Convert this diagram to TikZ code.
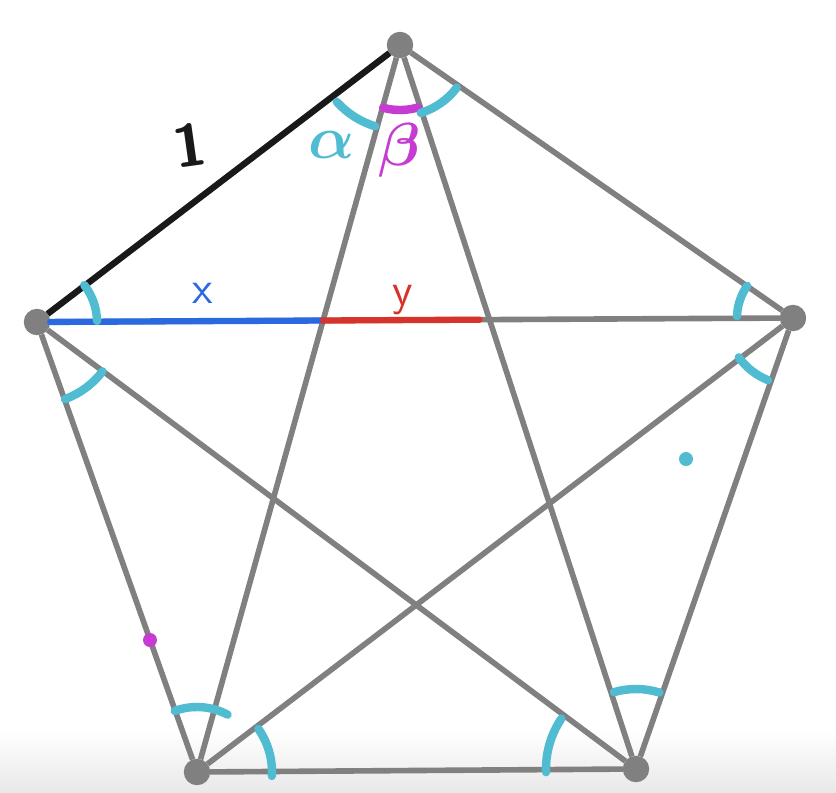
\documentclass[tikz,border=0pt]{standalone}
\usepackage{amsmath}
\usepackage{tikz}
\usetikzlibrary{calc}
\definecolor{edgegray}{RGB}{128,128,128}
\definecolor{angcyan}{RGB}{80,188,210}
\definecolor{angmag}{RGB}{198,60,210}
\definecolor{xblue}{RGB}{42,105,224}
\definecolor{yred}{RGB}{214,52,42}
\begin{document}
\begin{tikzpicture}[vtx/.style={draw=edgegray,circle,fill=edgegray,
		inner sep=0pt,minimum size=0.25cm}, edg/.style={draw=edgegray,line width=1.6pt},
		ang/.style={draw=angcyan,line width=2.4pt,line cap=round},
		dotmark/.style={circle,inner sep=0pt,minimum size=0.14cm}]
	\useasboundingbox (0,0) rectangle (8.36,-7.93);
	\shade[top color=white, bottom color=black!9] (0,-7.30) rectangle (8.36,-7.93);
	\node [vtx] (T) at (4.00,-0.45) {};
	\node [vtx] (L) at (0.37,-3.22) {};
	\node [vtx] (R) at (7.93,-3.18) {};
	\node [vtx] (BL) at (1.97,-7.72) {};
	\node [vtx] (BR) at (6.36,-7.69) {};
	\coordinate (X) at (intersection of T--BL and L--R);
	\coordinate (Y) at (intersection of T--BR and L--R);
	\draw[edg] (L)--(BL)--(BR)--(R)--(T);
	\draw[edg] (T)--(BL);
	\draw[edg] (T)--(BR);
	\draw[edg] (L)--(R);
	\draw[edg] (L)--(BR);
	\draw[edg] (R)--(BL);
	\draw[line width=1.8pt,black!90] (T)--(L);
	\draw[line width=1.8pt,xblue,line cap=round] (L)--(X);
	\draw[line width=1.8pt,yred,line cap=round] (X)--($(Y)!0.1cm!(X)$);
	\draw[ang,shift={(T)}] (222:0.85) arc[start angle=222,end angle=253,radius=0.85];
	\draw[ang,draw=angmag,shift={(T)}] (255:0.65) arc[start angle=255,end angle=286,radius=0.65];
	\draw[ang,shift={(T)}] (287:0.71) arc[start angle=287,end angle=323,radius=0.71];
	\draw[ang,shift={(L)}] (38:0.6) arc[start angle=38,end angle=1,radius=0.6];
	\draw[ang,shift={(L)}] (-70:0.82) arc[start angle=-70,end angle=-37,radius=0.82];
	\draw[ang,shift={(R)}] (145:0.56) arc[start angle=145,end angle=178,radius=0.56];
	\draw[ang,shift={(R)}] (216:0.67) arc[start angle=216,end angle=248,radius=0.67];
	\draw[ang,shift={(BL)}] (110:0.65) arc[start angle=110,end angle=62,radius=0.65];
	\draw[ang,shift={(BL)}] (35:0.75) arc[start angle=35,end angle=-3,radius=0.75];
	\draw[ang,shift={(BR)}] (106:0.8) arc[start angle=106,end angle=73,radius=0.8];
	\draw[ang,shift={(BR)}] (146:0.9) arc[start angle=146,end angle=182,radius=0.9];
	\node [dotmark, fill=angcyan] (d1) at (6.86,-4.59) {};
	\node [dotmark, fill=angmag] (d2) at (1.50,-6.40) {};
	\node [black!90, font=\sffamily\bfseries\fontsize{17}{17}\selectfont, rotate=8] (one) at (1.90,-1.45) {1};
	\node [angcyan, font=\fontsize{18}{18}\selectfont] (alpha) at (3.32,-1.45) {$\boldsymbol{\alpha}$};
	\node [angmag, font=\fontsize{18}{18}\selectfont] (beta) at (4.00,-1.50) {$\boldsymbol{\beta}$};
	\node [xblue, font=\sffamily\fontsize{13}{13}\selectfont] (xlab) at (2.03,-2.93) {x};
	\node [yred, font=\sffamily\fontsize{13}{13}\selectfont] (ylab) at (4.03,-3.00) {y};
\end{tikzpicture}
\end{document}
